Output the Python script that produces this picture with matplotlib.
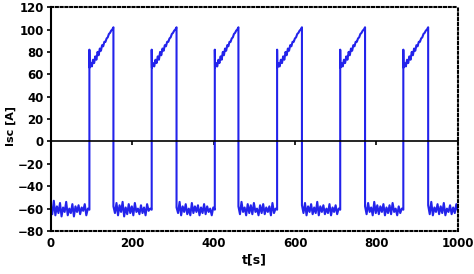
import matplotlib.pyplot as plt
import numpy as np

# pulse edges [s]
rise_t = [95, 248, 403, 556, 711, 866]
fall_t = [154, 309, 461, 617, 772, 927]
spike_top = 82

# current during one "on" pulse [A], from the rise to the fall
ramp_i = [66, 70, 67, 73, 70, 76, 73, 80, 77, 83, 81, 86, 85, 89, 89, 92, 93, 96, 97, 99, 100, 102]

# noisy "off" level [A], one list per gap between pulses
low_i = [
    [-57, -65, -53, -66, -58, -64, -55, -67, -59, -63, -54, -66, -60, -64, -56, -67, -58, -63, -57, -65, -59, -62, -56, -66, -60, -61],
    [-58, -64, -55, -66, -57, -63, -54, -67, -59, -65, -56, -64, -58, -66, -55, -63, -60, -65, -57, -64, -59, -66, -56, -62, -60, -61],
    [-59, -64, -54, -66, -58, -63, -56, -65, -60, -66, -55, -64, -58, -63, -57, -66, -59, -64, -56, -65, -58, -63, -60, -66, -59, -61],
    [-58, -65, -54, -63, -59, -66, -56, -64, -57, -65, -55, -63, -60, -66, -57, -64, -56, -65, -59, -63, -58, -66, -55, -64, -60, -61],
    [-57, -64, -55, -66, -58, -63, -56, -65, -59, -64, -54, -66, -58, -63, -57, -65, -60, -64, -56, -66, -59, -63, -57, -65, -60, -61],
    [-58, -65, -55, -63, -59, -66, -54, -64, -57, -65, -58, -63, -56, -66, -59, -64, -57, -65, -55, -63, -60, -66, -58, -64, -60, -61],
    [-57, -65, -54, -66, -59, -63, -56, -65, -58, -64, -55, -66, -60, -63, -57, -65, -59, -64, -56, -62],
]

t_end = 1000

t, i_sc = [], []
for k, seg in enumerate(low_i):
    start = 0 if k == 0 else fall_t[k - 1]
    end = rise_t[k] if k < len(rise_t) else t_end
    t.extend(np.linspace(start, end, len(seg)))
    i_sc.extend(seg)
    if k < len(rise_t):
        t.append(rise_t[k])
        i_sc.append(spike_top)
        t.extend(np.linspace(rise_t[k] + 0.5, fall_t[k], len(ramp_i)))
        i_sc.extend(ramp_i)

plt.rcParams['font.family'] = ['DejaVu Sans']

fig = plt.figure(figsize=(4.74, 2.74), dpi=100)
ax = fig.add_axes([0.107, 0.157, 0.859, 0.817])
ax.plot(t, i_sc, color='#2323eb', lw=1.5)
ax.axhline(0, color='black', lw=1.2, zorder=3)

ax.set_xlim(0, 1000)
ax.set_ylim(-80, 120)
ax.set_yticks(np.arange(-80, 121, 20))
ax.set_xticks(np.arange(0, 1001, 200))

for side in ['top', 'right', 'bottom']:
    ax.spines[side].set_linestyle((0, (1, 1.3)))
    ax.spines[side].set_linewidth(1.5)
ax.spines['left'].set_linewidth(1.5)

ax.tick_params(axis='y', direction='out', length=3, width=1.2, labelsize=8.5, pad=2)
ax.tick_params(axis='x', length=0, labelsize=8.5, pad=4)
for lab in ax.get_xticklabels() + ax.get_yticklabels():
    lab.set_fontweight('bold')

# tick marks sit on the zero line, like the Excel axis
zero_frac = (0 - ax.get_ylim()[0]) / (ax.get_ylim()[1] - ax.get_ylim()[0])
sec = ax.secondary_xaxis(zero_frac)
sec.set_xticks(np.arange(0, 1001, 200))
sec.tick_params(direction='out', length=3, width=1.2, labelbottom=False, labeltop=False)
sec.spines[:].set_visible(False)

ax.set_xlabel('t[s]', fontsize=9, fontweight='bold', labelpad=3)
ax.set_ylabel('Isc [A]', fontsize=8, fontweight='bold')
ax.yaxis.set_label_coords(-0.086, 0.47)

fig.savefig('out.png', dpi=100)
